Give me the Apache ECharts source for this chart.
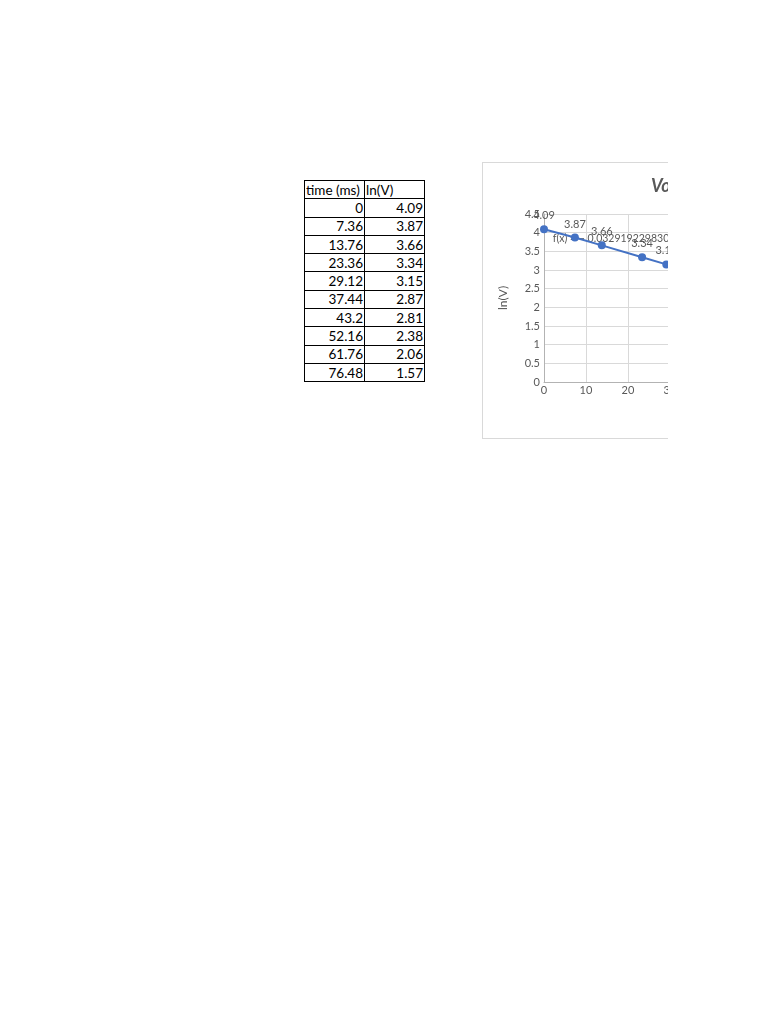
<!DOCTYPE html>
<html>
<head>
<meta charset="utf-8">
<script src="https://cdn.jsdelivr.net/npm/echarts@6/dist/echarts.min.js"></script>
<style>
  html, body { margin:0; padding:0; background:#fff; width:768px; height:1024px; overflow:hidden; }
  #tbl { position:absolute; left:304px; top:180px; border-collapse:collapse; font-family:Lato, "Noto Sans", sans-serif; font-size:13.5px; color:#000; }
  #tbl td { border:1px solid #000; height:17.3px; padding:0 1px; line-height:16px; letter-spacing:0; }
  #tbl td.c1 { width:57px; }
  #tbl td.c2 { width:57px; }
  #tbl td.num { text-align:right; }
  #tbl td.hdr { text-align:left; }
  #wrap { position:absolute; left:482px; top:162px; width:186px; height:278px; overflow:hidden; }
  #chart { position:absolute; left:0; top:0; width:470px; height:277px; border:1px solid #d9d9d9; box-sizing:border-box; }
</style>
</head>
<body>
<table id="tbl"></table>
<div id="wrap"><div id="chart"></div></div>
<script>
const headers = ["time (ms)", "ln(V)"];
const timeMs = [0, 7.36, 13.76, 23.36, 29.12, 37.44, 43.2, 52.16, 61.76, 76.48];
const lnV = [4.09, 3.87, 3.66, 3.34, 3.15, 2.87, 2.81, 2.38, 2.06, 1.57];
const timeText = ["0", "7.36", "13.76", "23.36", "29.12", "37.44", "43.2", "52.16", "61.76", "76.48"];
const lnVText = ["4.09", "3.87", "3.66", "3.34", "3.15", "2.87", "2.81", "2.38", "2.06", "1.57"];
const chartTitle = "Voltage vs Time";
const yAxisName = "ln(V)";
const equationText = "f(x) = − 0.0329192298304x + 4.11";

// table
const tbl = document.getElementById('tbl');
let html = '<tr><td class="c1 hdr">' + headers[0] + '</td><td class="c2 hdr">' + headers[1] + '</td></tr>';
for (let i = 0; i < timeText.length; i++) {
  html += '<tr><td class="c1 num">' + timeText[i] + '</td><td class="c2 num">' + lnVText[i] + '</td></tr>';
}
tbl.innerHTML = html;

const font = 'Lato, "Noto Sans", sans-serif';
const chart = echarts.init(document.getElementById('chart'), null, { renderer: 'canvas' });
const seriesData = timeMs.map((t, i) => [t, lnV[i]]);
chart.setOption({
  animation: false,
  textStyle: { fontFamily: font },
  title: {
    text: chartTitle, left: 163, top: 9,
    textStyle: { fontSize: 18, fontWeight: 'bold', fontStyle: 'italic', color: '#595959', fontFamily: font }
  },
  grid: { left: 61, top: 51, width: 336, height: 168 },
  xAxis: {
    type: 'value', min: 0, max: 80, interval: 10,
    axisLine: { show: true, lineStyle: { color: '#b3b3b3' } },
    axisTick: { show: false },
    axisLabel: { color: '#595959', fontSize: 11, margin: 3, fontFamily: font },
    splitLine: { show: true, lineStyle: { color: '#d9d9d9' } }
  },
  yAxis: {
    type: 'value', min: 0, max: 4.5, interval: 0.5,
    name: yAxisName, nameLocation: 'middle', nameGap: 35, nameRotate: 90,
    nameTextStyle: { color: '#595959', fontSize: 12, fontFamily: font },
    axisLine: { show: true, lineStyle: { color: '#b3b3b3' } },
    axisTick: { show: false },
    axisLabel: { color: '#595959', fontSize: 11, margin: 4, fontFamily: font },
    splitLine: { show: true, lineStyle: { color: '#d9d9d9' } }
  },
  series: [{
    type: 'line',
    data: seriesData,
    symbol: 'circle', symbolSize: 8,
    lineStyle: { color: '#4472c4', width: 2 },
    itemStyle: { color: '#4472c4' },
    label: { show: true, position: 'top', distance: 4, color: '#595959', fontSize: 11, fontFamily: font,
      formatter: p => lnVText[p.dataIndex] }
  }]
});
const pos = chart.convertToPixel({ gridIndex: 0 }, [2.1, 3.83]);
chart.setOption({
  graphic: [{
    type: 'text', left: pos[0], top: pos[1] - 6,
    style: { text: equationText, fill: '#595959', font: '10.5px ' + font }
  }]
});
</script>
</body>
</html>
